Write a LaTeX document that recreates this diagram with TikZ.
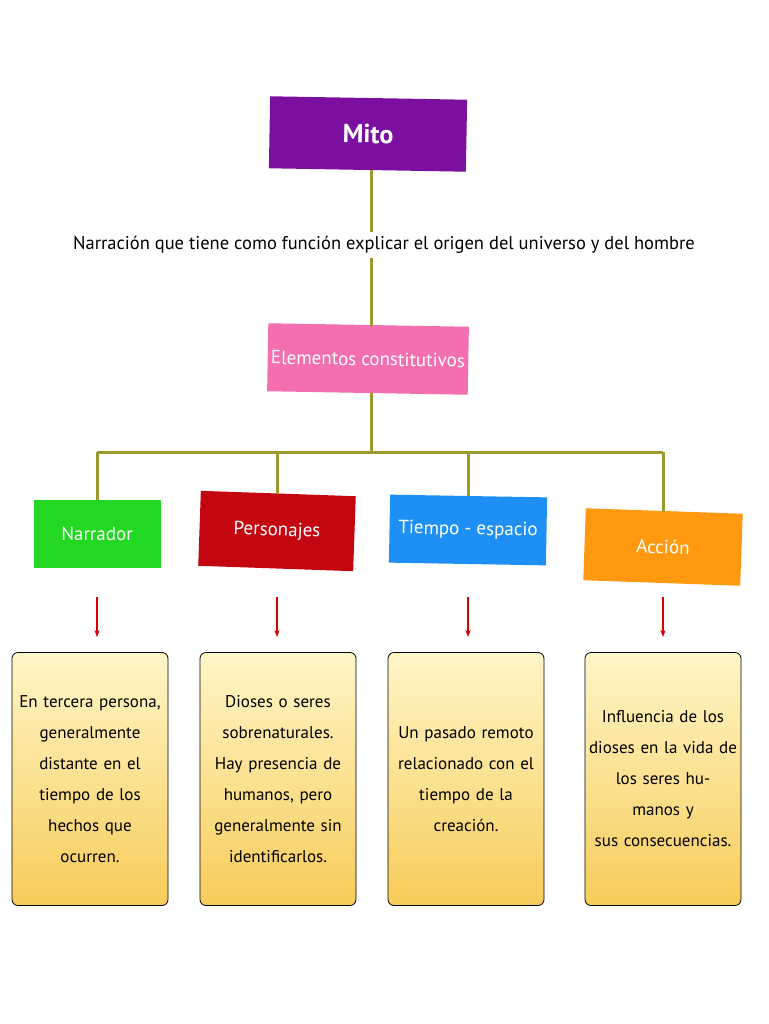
\documentclass[tikz,border=0pt]{standalone}
\usepackage{fontspec}
\setmainfont{PT Sans}
\usetikzlibrary{patterns,arrows.meta}
\definecolor{olv}{HTML}{9C9A2E}
\definecolor{mpur}{HTML}{7A0FA0}
\definecolor{mpink}{HTML}{F36FB0}
\definecolor{mgreen}{HTML}{22D822}
\definecolor{mred}{HTML}{C40610}
\definecolor{mblue}{HTML}{1E90F5}
\definecolor{morange}{HTML}{FF9A10}
\definecolor{ytop}{HTML}{FFF6C8}
\definecolor{ybot}{HTML}{F7CC5A}
\tikzset{
 cat/.style={minimum height=68pt, text=white, font=\fontsize{19}{22}\selectfont},
 info/.style={draw=black, line width=0.8pt, rounded corners=6pt, top color=ytop, bottom color=ybot, minimum height=253pt, minimum width=156pt, text width=148pt, align=center, font=\fontsize{17}{31}\selectfont},
 conn/.style={olv, line width=3pt},
 arr/.style={red!85!black, line width=1.2pt, -{Stealth[length=7pt]}}
}
\begin{document}
\begin{tikzpicture}[x=1pt,y=-1pt]
\useasboundingbox[fill=white] (0,0) rectangle (768,1024);
\node[fill=mpur, minimum width=197pt, minimum height=72pt, text=white, font=\bfseries\fontsize{26}{30}\selectfont, rotate=-1] (mito) at (368,134) {Mito};
\node[font=\fontsize{18.5}{22}\selectfont, inner sep=3pt] (narr) at (384,245) {Narración que tiene como función explicar el origen del universo y del hombre};
\node[fill=mpink, minimum width=199pt, minimum height=68pt, text=white, font=\fontsize{19}{22}\selectfont, rotate=-1] (elem) at (368,359) {Elementos constitutivos};
\coordinate (m1) at (371,170); \coordinate (m2) at (371,232);
\coordinate (m3) at (371,258); \coordinate (m4) at (371,326);
\coordinate (m5) at (371,393);
\draw[conn] (m1) -- (m2);
\draw[conn] (m3) -- (m4);
\coordinate (hub) at (371,452);
\draw[conn] (m5) -- (hub);
\node[cat, fill=mgreen, minimum width=127pt] (c1) at (97,534) {Narrador};
\node[cat, fill=mred, minimum width=155pt, minimum height=75pt, rotate=-2] (c2) at (277,531) {Personajes};
\node[cat, fill=mblue, minimum width=157pt, rotate=-1] (c3) at (468,530) {Tiempo - espacio};
\node[cat, fill=morange, minimum width=157pt, minimum height=72pt, rotate=-2] (c4) at (663,547) {Acción};
\coordinate (l1) at (97,452); \coordinate (l4) at (663,452);
\draw[conn] (l1) -- (l4);
\draw[conn] (l1) -- (c1.north);
\draw[conn] (277,452) -- (277,494);
\draw[conn] (468,452) -- (468,496);
\draw[conn] (l4) -- (663,512);
\node[info] (b1) at (90,779) {En tercera persona,\\ generalmente\\ distante en el\\ tiempo de los\\ hechos que\\ ocurren.};
\node[info] (b2) at (278,779) {Dioses o seres\\ sobrenaturales.\\ Hay presencia de\\ humanos, pero\\ generalmente sin\\ identificarlos.};
\node[info] (b3) at (466,779) {Un pasado remoto\\ relacionado con el\\ tiempo de la\\ creación.};
\node[info] (b4) at (663,779) {Influencia de los\\ dioses en la vida de\\ los seres humanos y\\ sus consecuencias.};
\foreach \b/\x in {b1/97,b2/277,b3/468,b4/663}{
 \coordinate (s\b) at (\x,597); \coordinate (e\b) at (\x,637);
 \draw[arr] (s\b) -- (e\b);
}
\end{tikzpicture}
\end{document}
